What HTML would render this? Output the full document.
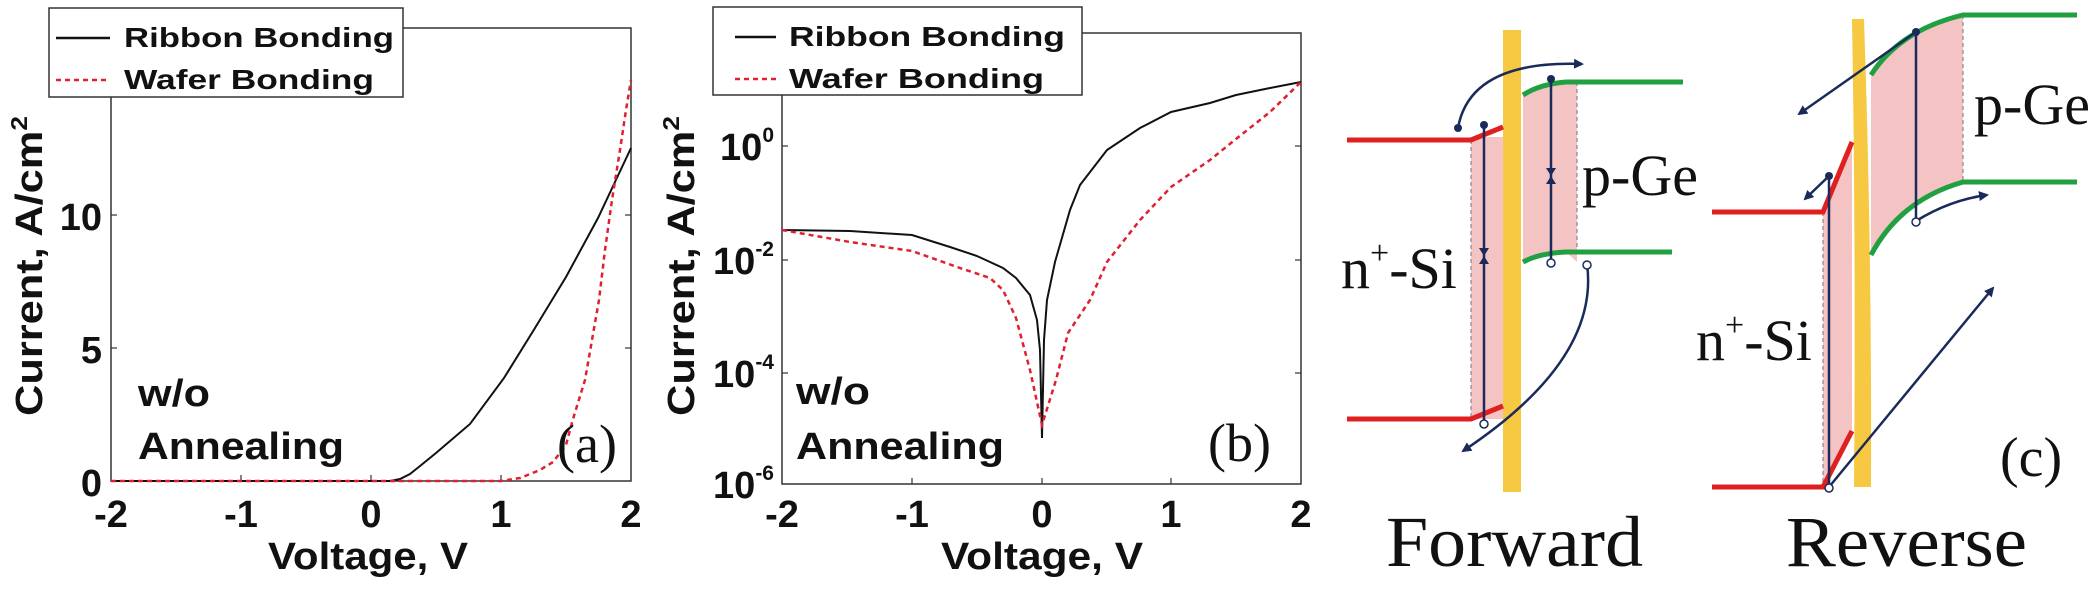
<!DOCTYPE html>
<html><head><style>
html,body{margin:0;padding:0;background:#fff;}
svg{display:block;}
.t{font-family:"Liberation Sans",Arial,sans-serif;font-weight:bold;fill:#111;}
.s{font-family:"Liberation Serif","Times New Roman",serif;fill:#111;}
</style></head><body>
<svg width="2100" height="589" viewBox="0 0 2100 589" xmlns="http://www.w3.org/2000/svg">
<rect width="2100" height="589" fill="#fff"/>
<defs>
<marker id="ar" markerWidth="10" markerHeight="10" refX="8" refY="5" orient="auto" markerUnits="userSpaceOnUse"><path d="M0,0 L10,5 L0,10 z" fill="#1a2a5a"/></marker>
</defs>

<!-- ===== Panel (a) ===== -->
<rect x="111" y="28" width="520" height="453" fill="none" stroke="#333" stroke-width="1.5"/>
<g stroke="#333" stroke-width="1.2">
<line x1="241" y1="481" x2="241" y2="475"/><line x1="371" y1="481" x2="371" y2="475"/><line x1="501" y1="481" x2="501" y2="475"/>
<line x1="111" y1="348" x2="117" y2="348"/><line x1="111" y1="215" x2="117" y2="215"/><line x1="631" y1="348" x2="625" y2="348"/><line x1="631" y1="215" x2="625" y2="215"/>
</g>
<polyline fill="none" stroke="#111" stroke-width="2" points="111,481 390,481 400,479 410,474 420,466 436,453 470,424 504,378 535,328 566,277 598,218 631,148"/>
<polyline fill="none" stroke="#e02030" stroke-width="2.5" stroke-dasharray="5,4" points="111,481 501,481 520,478 540,470 553,462 566,445 573,419 585,380 592,340 599,300 605,250 612,200 620,150 626,110 631,80"/>
<rect x="49" y="8" width="354" height="89" fill="#fff" stroke="#333" stroke-width="1.5"/>
<line x1="56" y1="38" x2="110" y2="38" stroke="#111" stroke-width="2.5"/>
<line x1="56" y1="80" x2="110" y2="80" stroke="#e02030" stroke-width="2.5" stroke-dasharray="5,4"/>
<text class="t" x="124" y="47" font-size="28" textLength="270" lengthAdjust="spacingAndGlyphs">Ribbon Bonding</text>
<text class="t" x="124" y="89" font-size="28" textLength="250" lengthAdjust="spacingAndGlyphs">Wafer Bonding</text>
<text class="t" x="102" y="496" font-size="38" text-anchor="end">0</text>
<text class="t" x="102" y="363" font-size="38" text-anchor="end">5</text>
<text class="t" x="102" y="230" font-size="38" text-anchor="end">10</text>
<text class="t" x="111" y="527" font-size="38" text-anchor="middle">-2</text>
<text class="t" x="241" y="527" font-size="38" text-anchor="middle">-1</text>
<text class="t" x="371" y="527" font-size="38" text-anchor="middle">0</text>
<text class="t" x="501" y="527" font-size="38" text-anchor="middle">1</text>
<text class="t" x="631" y="527" font-size="38" text-anchor="middle">2</text>
<text class="t" x="268" y="569" font-size="38" textLength="200" lengthAdjust="spacingAndGlyphs">Voltage, V</text>
<text class="t" font-size="38" transform="translate(42,416) rotate(-90)" textLength="300" lengthAdjust="spacingAndGlyphs">Current, A/cm<tspan font-size="23" dy="-15">2</tspan></text>
<text class="t" x="138" y="406" font-size="38" textLength="72" lengthAdjust="spacingAndGlyphs">w/o</text>
<text class="t" x="138" y="459" font-size="38" textLength="206" lengthAdjust="spacingAndGlyphs">Annealing</text>
<text class="s" x="557" y="462" font-size="54">(a)</text>

<!-- ===== Panel (b) ===== -->
<rect x="782" y="33" width="519" height="451" fill="none" stroke="#333" stroke-width="1.5"/>
<g stroke="#333" stroke-width="1.2">
<line x1="912" y1="484" x2="912" y2="478"/><line x1="1042" y1="484" x2="1042" y2="478"/><line x1="1171" y1="484" x2="1171" y2="478"/>
<line x1="782" y1="146" x2="788" y2="146"/><line x1="782" y1="260" x2="788" y2="260"/><line x1="782" y1="373" x2="788" y2="373"/>
<line x1="1301" y1="146" x2="1295" y2="146"/><line x1="1301" y1="260" x2="1295" y2="260"/><line x1="1301" y1="373" x2="1295" y2="373"/>
</g>
<polyline fill="none" stroke="#111" stroke-width="2" points="782,230 850,231 912,235 950,247 977,256 1003,268 1016,278 1030,295 1037,320 1040,350 1042,438 1044,340 1047,300 1055,262 1070,210 1080,185 1107,150 1140,128 1171,112 1210,103 1236,95 1270,88 1301,82"/>
<polyline fill="none" stroke="#e02030" stroke-width="2.5" stroke-dasharray="5,4" points="782,230 850,242 912,251 960,268 990,278 1003,290 1016,318 1030,370 1042,425 1056,380 1068,333 1090,300 1107,262 1140,220 1171,187 1210,160 1236,139 1270,112 1301,82"/>
<rect x="713" y="7" width="369" height="88" fill="#fff" stroke="#333" stroke-width="1.5"/>
<line x1="735" y1="37" x2="776" y2="37" stroke="#111" stroke-width="2.5"/>
<line x1="735" y1="79" x2="776" y2="79" stroke="#e02030" stroke-width="2.5" stroke-dasharray="5,4"/>
<text class="t" x="789" y="46" font-size="28" textLength="276" lengthAdjust="spacingAndGlyphs">Ribbon Bonding</text>
<text class="t" x="789" y="88" font-size="28" textLength="255" lengthAdjust="spacingAndGlyphs">Wafer Bonding</text>
<text class="t" x="774" y="160" font-size="38" text-anchor="end">10<tspan font-size="21" dy="-18">0</tspan></text>
<text class="t" x="774" y="274" font-size="38" text-anchor="end">10<tspan font-size="21" dy="-18">-2</tspan></text>
<text class="t" x="774" y="387" font-size="38" text-anchor="end">10<tspan font-size="21" dy="-18">-4</tspan></text>
<text class="t" x="774" y="498" font-size="38" text-anchor="end">10<tspan font-size="21" dy="-18">-6</tspan></text>
<text class="t" x="782" y="527" font-size="38" text-anchor="middle">-2</text>
<text class="t" x="912" y="527" font-size="38" text-anchor="middle">-1</text>
<text class="t" x="1042" y="527" font-size="38" text-anchor="middle">0</text>
<text class="t" x="1171" y="527" font-size="38" text-anchor="middle">1</text>
<text class="t" x="1301" y="527" font-size="38" text-anchor="middle">2</text>
<text class="t" x="941" y="569" font-size="38" textLength="202" lengthAdjust="spacingAndGlyphs">Voltage, V</text>
<text class="t" font-size="38" transform="translate(694,416) rotate(-90)" textLength="300" lengthAdjust="spacingAndGlyphs">Current, A/cm<tspan font-size="23" dy="-15">2</tspan></text>
<text class="t" x="796" y="404" font-size="38" textLength="74" lengthAdjust="spacingAndGlyphs">w/o</text>
<text class="t" x="796" y="459" font-size="38" textLength="208" lengthAdjust="spacingAndGlyphs">Annealing</text>
<text class="s" x="1208" y="461" font-size="54">(b)</text>

<!-- ===== Panel (c) Forward ===== -->
<rect x="1471" y="137" width="32" height="282" fill="#f4c4c4"/>
<path d="M1523,95 Q1540,84 1566,82 L1577,82 L1577,262 L1566,252 Q1540,253 1523,262 Z" fill="#f4c4c4"/>
<line x1="1471" y1="140" x2="1471" y2="419" stroke="#888" stroke-width="1.2" stroke-dasharray="4,3"/>
<line x1="1577" y1="82" x2="1577" y2="252" stroke="#888" stroke-width="1.2" stroke-dasharray="4,3"/>
<rect x="1503" y="30" width="18" height="462" fill="#f7c842"/>
<polyline fill="none" stroke="#e02020" stroke-width="5" points="1347,140 1471,140 1503,127"/>
<polyline fill="none" stroke="#e02020" stroke-width="5" points="1347,419 1471,419 1503,406"/>
<path d="M1523,95 Q1540,84 1566,82 L1683,82" fill="none" stroke="#20a040" stroke-width="5"/>
<path d="M1523,262 Q1540,253 1566,252 L1672,252" fill="none" stroke="#20a040" stroke-width="5"/>
<g stroke="#1a2a5a" stroke-width="2.5" fill="none">
<line x1="1484" y1="125" x2="1484" y2="423"/>
<line x1="1551" y1="79" x2="1551" y2="262"/>
<path d="M1458,128 Q1470,60 1582,64" marker-end="url(#ar)"/>
<path d="M1587,264 Q1600,360 1463,451" marker-end="url(#ar)"/>
</g>
<circle cx="1458" cy="128" r="4" fill="#1a2a5a"/><circle cx="1484" cy="125" r="4" fill="#1a2a5a"/><circle cx="1551" cy="79" r="4" fill="#1a2a5a"/>
<circle cx="1484" cy="424" r="4" fill="#fff" stroke="#1a2a5a" stroke-width="1.5"/>
<circle cx="1551" cy="263" r="4" fill="#fff" stroke="#1a2a5a" stroke-width="1.5"/>
<circle cx="1587" cy="265" r="4" fill="#fff" stroke="#1a2a5a" stroke-width="1.5"/>
<path d="M1479,248 L1489,248 L1484,256 Z M1479,264 L1489,264 L1484,256 Z M1546,168 L1556,168 L1551,176 Z M1546,184 L1556,184 L1551,176 Z" fill="#1a2a5a"/>
<text class="s" x="1582" y="195" font-size="58">p-Ge</text>
<text class="s" x="1341" y="288" font-size="58">n<tspan font-size="34" dy="-24">+</tspan><tspan dy="24">-Si</tspan></text>
<text class="s" x="1386" y="566" font-size="72" textLength="257" lengthAdjust="spacingAndGlyphs">Forward</text>

<!-- ===== Panel (c) Reverse ===== -->
<path d="M1823,212 L1852,142 L1852,431 L1823,487 Z" fill="#f4c4c4"/>
<path d="M1871,75 Q1900,30 1963,15 L1963,182 Q1900,200 1871,255 Z" fill="#f4c4c4"/>
<line x1="1823" y1="212" x2="1823" y2="487" stroke="#888" stroke-width="1.2" stroke-dasharray="4,3"/>
<line x1="1963" y1="15" x2="1963" y2="182" stroke="#888" stroke-width="1.2" stroke-dasharray="4,3"/>
<path d="M1852,19 L1864,19 Q1872,250 1871,487 L1854,487 Q1856,250 1852,19 Z" fill="#f7c842"/>
<polyline fill="none" stroke="#e02020" stroke-width="5" points="1712,212 1823,212 1852,142"/>
<polyline fill="none" stroke="#e02020" stroke-width="5" points="1712,487 1823,487 1852,431"/>
<path d="M1871,75 Q1900,30 1963,15 L2077,15" fill="none" stroke="#20a040" stroke-width="5"/>
<path d="M1871,255 Q1900,200 1963,182 L2077,182" fill="none" stroke="#20a040" stroke-width="5"/>
<g stroke="#1a2a5a" stroke-width="2.5" fill="none">
<line x1="1829" y1="176" x2="1829" y2="487"/>
<line x1="1916" y1="32" x2="1916" y2="221"/>
<line x1="1916" y1="32" x2="1799" y2="114" marker-end="url(#ar)"/>
<line x1="1829" y1="487" x2="1993" y2="288" marker-end="url(#ar)"/>
<path d="M1916,221 Q1950,200 1987,195" marker-end="url(#ar)"/>
<line x1="1829" y1="176" x2="1805" y2="199" marker-end="url(#ar)"/>
</g>
<circle cx="1829" cy="176" r="4" fill="#1a2a5a"/><circle cx="1916" cy="32" r="4" fill="#1a2a5a"/>
<circle cx="1829" cy="488" r="4" fill="#fff" stroke="#1a2a5a" stroke-width="1.5"/>
<circle cx="1916" cy="222" r="4" fill="#fff" stroke="#1a2a5a" stroke-width="1.5"/>
<text class="s" x="1974" y="124" font-size="58">p-Ge</text>
<text class="s" x="1696" y="360" font-size="58">n<tspan font-size="34" dy="-24">+</tspan><tspan dy="24">-Si</tspan></text>
<text class="s" x="2000" y="476" font-size="56">(c)</text>
<text class="s" x="1786" y="566" font-size="72" textLength="241" lengthAdjust="spacingAndGlyphs">Reverse</text>
</svg>
</body></html>
